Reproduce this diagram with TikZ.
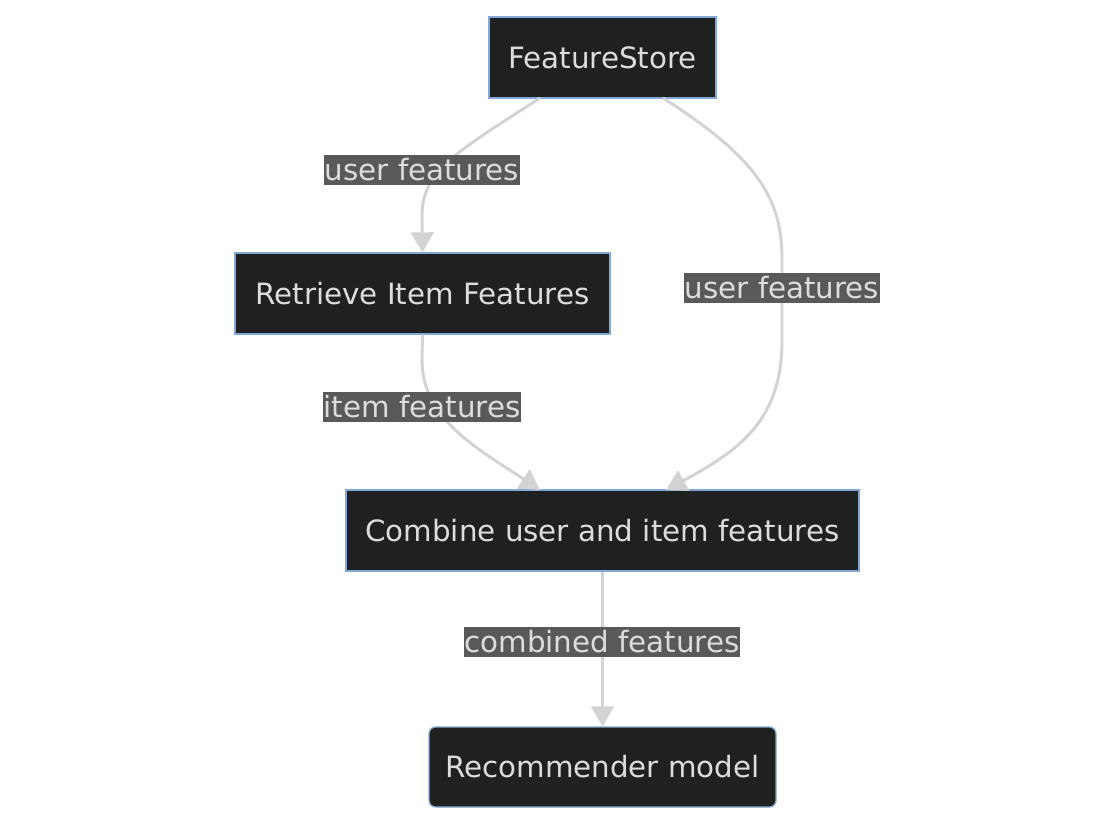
\documentclass[tikz,border=0pt]{standalone}
\usepackage{fontspec}
\setmainfont{DejaVu Sans}
\usetikzlibrary{arrows.meta}
\definecolor{nodefill}{HTML}{1F2020}
\definecolor{nodeborder}{HTML}{81A8D6}
\definecolor{txt}{HTML}{DDDDDD}
\definecolor{lblbg}{HTML}{595959}
\definecolor{edge}{HTML}{D3D3D3}
\begin{document}
\begin{tikzpicture}[x=0.75pt,y=-0.75pt,
  box/.style={draw=nodeborder,fill=nodefill,text=txt,line width=1pt,inner sep=0pt,font=\fontsize{22}{24}\selectfont},
  lbl/.style={fill=lblbg,text=txt,inner xsep=0.5pt,inner ysep=3pt,font=\fontsize{22}{24}\selectfont},
  conn/.style={draw=edge,line width=2.2pt,-{Triangle[length=15pt,width=17pt]}}]
\useasboundingbox[fill=white] (0,0) rectangle (1116,825);
\node[box,minimum width=170.25pt,minimum height=60.75pt] (fs) at (602.5,57.5) {FeatureStore};
\node[box,minimum width=281.25pt,minimum height=60.75pt] (ri) at (422.5,293.5) {Retrieve Item Features};
\node[box,minimum width=384.75pt,minimum height=60.75pt] (cb) at (602.5,530.5) {Combine user and item features};
\node[box,rounded corners=5pt,minimum width=260.25pt,minimum height=60pt] (rm) at (602.5,767) {Recommender model};
\coordinate (a1) at (540,98);
\coordinate (b1) at (663,98);
\coordinate (a3) at (540,490);
\coordinate (b3) at (666,490);
\draw[conn] (a1) .. controls (460,150) and (422,170) .. (422,215) -- (ri.north);
\draw[conn] (b1) .. controls (760,160) and (782,200) .. (782,260) -- (782,340) .. controls (782,420) and (740,450) .. (b3);
\draw[conn] (ri.south) -- (422,360) .. controls (422,420) and (480,450) .. (a3);
\draw[conn] (cb.south) -- (rm.north);
\node[lbl] (l1) at (422,170) {user features};
\node[lbl] (l2) at (782,288) {user features};
\node[lbl] (l3) at (422,407) {item features};
\node[lbl] (l4) at (602,642) {combined features};
\end{tikzpicture}
\end{document}
